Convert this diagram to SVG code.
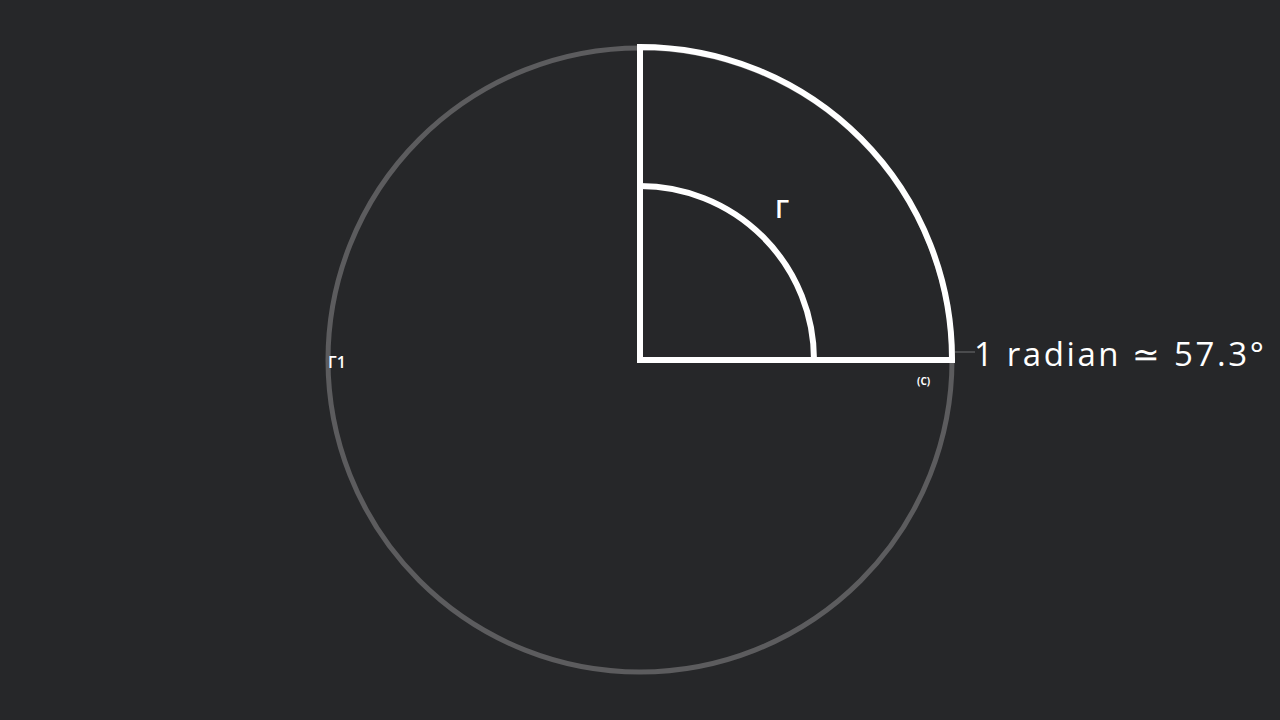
<svg xmlns="http://www.w3.org/2000/svg" width="1280" height="720" viewBox="0 0 1280 720">
<style>
.lbl{font-family:"Open Sans","Noto Sans",sans-serif;fill:#ffffff}
.w{fill:none;stroke:#ffffff;stroke-width:6;stroke-linejoin:miter}
</style>
<rect width="1280" height="720" fill="#262729"/>
<g id="circle"><circle cx="640" cy="360" r="312" fill="none" stroke="#5c5c5e" stroke-width="5"/></g>
<g id="connectors">
<line x1="955" y1="352" x2="975" y2="352" stroke="#4a4b4d" stroke-width="2"/>
</g>
<g id="sector"><path class="w" d="M640 47 L640 360 L952 360 A312 312 0 0 0 640 47 Z"/></g>
<g id="inner-arc"><path class="w" d="M640 186 A174 174 0 0 1 814 360"/></g>
<g id="label-gamma"><text class="lbl" x="775" y="218" font-size="26" font-weight="600">Γ</text></g>
<g id="label-gamma1"><text class="lbl" x="328" y="368" font-size="16" font-weight="600">Γ1</text></g>
<g id="label-c"><text class="lbl" x="917" y="385" font-size="10" font-weight="bold">(C)</text></g>
<g id="label-radian"><text class="lbl" x="974" y="366" font-size="33" letter-spacing="2.6">1 radian ≃ 57.3°</text></g>
</svg>
